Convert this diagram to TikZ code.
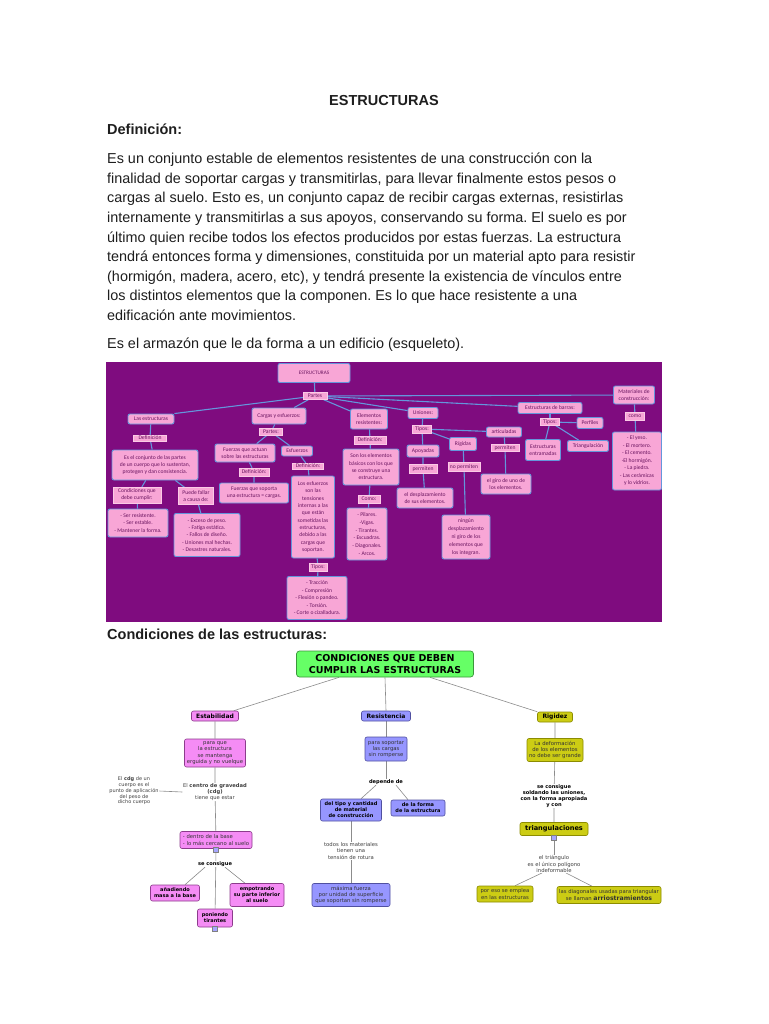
\documentclass[tikz,border=0pt]{standalone}
\usepackage{fontspec}
\setmainfont{Liberation Sans}
\newfontfamily\calib{Carlito}
\newfontfamily\dvs{DejaVu Sans}
\usetikzlibrary{backgrounds}
\definecolor{pbg}{RGB}{127,12,127}
\definecolor{ppink}{RGB}{248,166,214}
\definecolor{pblue}{RGB}{100,150,220}
\definecolor{ptext}{RGB}{105,20,95}
\definecolor{gfill}{RGB}{102,255,102}
\definecolor{gbord}{RGB}{60,150,60}
\definecolor{vfill}{RGB}{245,140,245}
\definecolor{vbord}{RGB}{140,60,140}
\definecolor{bfill}{RGB}{150,150,255}
\definecolor{bbord}{RGB}{80,80,160}
\definecolor{ofill}{RGB}{204,204,20}
\definecolor{obord}{RGB}{140,140,0}
\definecolor{bodytext}{RGB}{30,30,30}
\frenchspacing
\begin{document}
\begin{tikzpicture}[x=1pt,y=-1pt,
  body/.style={anchor=base west, inner sep=0pt, text=bodytext, font=\fontsize{14.4}{17}\selectfont},
  bodyb/.style={body, font=\fontsize{14.5}{17}\selectfont\bfseries},
  pbox/.style={draw=pblue, line width=0.9pt, fill=ppink, rounded corners=2pt, text=ptext,
    font=\calib\fontsize{5.6}{7.3}\selectfont, align=center, inner sep=0.5pt},
  plab/.style={fill=ppink, draw=ppink!60!white, line width=0.3pt, text=ptext,
    font=\calib\fontsize{5.6}{7}\selectfont, align=center, inner sep=0.5pt},
  pedge/.style={draw=pblue, line width=1.1pt},
  cbox/.style={rounded corners=2pt, line width=0.6pt, align=center, inner sep=0.5pt,
    font=\dvs\fontsize{5.3}{6.3}\selectfont, text=black!80},
  cboxb/.style={cbox, font=\dvs\bfseries\fontsize{5}{6}\selectfont, text=black},
  vbox/.style={fill=vfill, draw=vbord},
  bbox/.style={fill=bfill, draw=bbord},
  obox/.style={fill=ofill, draw=obord},
  ctxt/.style={fill=white, inner sep=0.5pt, align=center, font=\dvs\fontsize{5.3}{6.1}\selectfont, text=black!75},
  ctxtb/.style={ctxt, font=\dvs\bfseries\fontsize{5.1}{6}\selectfont, text=black},
  cedge/.style={draw=black!45, line width=0.6pt},
  icon/.style={draw=black!50, fill=blue!35!white, line width=0.3pt, minimum width=5pt, minimum height=5pt, inner sep=0pt}
]
\useasboundingbox (0,0) rectangle (768,1024);

% ---------- text ----------
\node[bodyb, anchor=base] (title) at (384,106) {ESTRUCTURAS};
\node[bodyb] (defh) at (107,135) {Definición:};
\node[body] (l1) at (107,164) {Es un conjunto estable de elementos resistentes de una construcción con la};
\node[body] (l2) at (107,183.5) {finalidad de soportar cargas y transmitirlas, para llevar finalmente estos pesos o};
\node[body] (l3) at (107,203) {cargas al suelo. Esto es, un conjunto capaz de recibir cargas externas, resistirlas};
\node[body] (l4) at (107,222.5) {internamente y transmitirlas a sus apoyos, conservando su forma. El suelo es por};
\node[body] (l5) at (107,242) {último quien recibe todos los efectos producidos por estas fuerzas. La estructura};
\node[body] (l6) at (107,261.5) {tendrá entonces forma y dimensiones, constituida por un material apto para resistir};
\node[body] (l7) at (107,281) {(hormigón, madera, acero, etc), y tendrá presente la existencia de vínculos entre};
\node[body] (l8) at (107,300.5) {los distintos elementos que la componen. Es lo que hace resistente a una};
\node[body] (l9) at (107,320) {edificación ante movimientos.};
\node[body] (l10) at (107,348.5) {Es el armazón que le da forma a un edificio (esqueleto).};
\node[bodyb] (condh) at (107,639) {Condiciones de las estructuras:};

% ---------- purple map nodes ----------
\node[pbox, minimum width=72pt, minimum height=19pt, font=\calib\fontsize{5.2}{6}\selectfont] (est) at (314,373) {ESTRUCTURAS};
\node[plab, minimum width=24pt, minimum height=7pt] (partes1) at (315,396) {Partes};
\node[pbox, minimum width=46pt, minimum height=10pt] (lasest) at (151,419) {Las estructuras};
\node[pbox, minimum width=54pt, minimum height=16pt] (cargas) at (279,416) {Cargas y esfuerzos:};
\node[pbox, minimum width=37pt, minimum height=20pt] (elem) at (369,419) {Elementos\\resistentes:};
\node[pbox, minimum width=30pt, minimum height=11pt] (uniones) at (423,413) {Uniones:};
\node[pbox, minimum width=64pt, minimum height=11pt] (barras) at (550,408) {Estructuras de barras:};
\node[pbox, minimum width=41pt, minimum height=18pt] (mat) at (634,395) {Materiales de\\construcción:};

\node[plab, minimum width=33pt, minimum height=6pt] (def1) at (150,438) {Definición};
\node[pbox, minimum width=86pt, minimum height=30pt] (esconj) at (155,465) {Es el conjunto de las partes\\de un cuerpo que lo sustentan,\\protegen y dan consistencia.};
\node[plab, minimum width=48pt, minimum height=16pt] (cond) at (137,495) {Condiciones que\\debe cumplir:};
\node[plab, minimum width=35pt, minimum height=17pt] (puede) at (196,496) {Puede fallar\\a causa de:};
\node[pbox, minimum width=60pt, minimum height=28pt] (serres) at (138,523) {- Ser resistente.\\- Ser estable.\\- Mantener la forma.};
\node[pbox, minimum width=66pt, minimum height=43pt] (exceso) at (207,535) {- Exceso de peso.\\- Fatiga estática.\\- Fallos de diseño.\\- Uniones mal hechas.\\- Desastres naturales.};

\node[plab, minimum width=23pt, minimum height=7pt] (partes2) at (271,432) {Partes:};
\node[pbox, minimum width=60pt, minimum height=18pt] (fuerzas) at (245,453) {Fuerzas que actuan\\sobre las estructuras};
\node[pbox, minimum width=31pt, minimum height=10pt] (esfuerzos) at (297,451) {Esfuerzos};
\node[plab, minimum width=30pt, minimum height=8pt] (def2) at (254,472) {Definición:};
\node[pbox, minimum width=69pt, minimum height=20pt] (fsoporta) at (254,493) {Fuerzas que soporta\\una estructura = cargas.};
\node[plab, minimum width=31pt, minimum height=6pt] (def3) at (308,466) {Definición:};
\node[pbox, minimum width=43pt, minimum height=82pt] (losesf) at (313,517) {Los esfuerzos\\son las\\tensiones\\internas a las\\que están\\sometidas las\\estructuras,\\debido a las\\cargas que\\soportan.};
\node[plab, minimum width=18pt, minimum height=8pt] (tipos1) at (318,567) {Tipos:};
\node[pbox, minimum width=60pt, minimum height=43pt, font=\calib\fontsize{5.6}{7.5}\selectfont] (tiplist) at (317,598) {- Tracción\\- Compresión\\- Flexión o pandeo.\\- Torsión.\\- Corte o cizalladura.};

\node[plab, minimum width=32pt, minimum height=8pt] (def4) at (370,440) {Definición:};
\node[pbox, minimum width=56pt, minimum height=36pt] (sonlos) at (371,467) {Son los elementos\\básicos con los que\\se construye una\\estructura.};
\node[plab, minimum width=22pt, minimum height=8pt] (como1) at (369,499) {Como:};
\node[pbox, minimum width=40pt, minimum height=52pt, font=\calib\fontsize{5.6}{7.8}\selectfont] (pilares) at (367,534) {- Pilares.\\-Vigas.\\- Tirantes.\\- Escuadras.\\- Diagonales.\\- Arcos.};

\node[plab, minimum width=19pt, minimum height=8pt] (tipos2) at (422,429) {Tipos:};
\node[pbox, minimum width=32pt, minimum height=12pt] (apoyadas) at (423,451) {Apoyadas};
\node[pbox, minimum width=27pt, minimum height=13pt] (rigidas) at (463,444) {Rígidas};
\node[pbox, minimum width=35pt, minimum height=10pt] (articuladas) at (504,432) {articuladas};
\node[plab, minimum width=28pt, minimum height=9pt] (perm1) at (423,469) {permiten};
\node[plab, minimum width=32pt, minimum height=9pt] (noperm) at (464,467) {no permiten};
\node[plab, minimum width=28pt, minimum height=7pt] (perm2) at (505,448) {permiten};
\node[pbox, minimum width=56pt, minimum height=20pt] (desplaz) at (425,498) {el desplazamiento\\de sus elementos.};
\node[pbox, minimum width=48pt, minimum height=44pt, font=\calib\fontsize{5.6}{7.8}\selectfont] (ningun) at (466,537) {ningún\\desplazamiento\\ni giro de los\\elementos que\\los integran.};
\node[pbox, minimum width=50pt, minimum height=20pt] (giro) at (506,484) {el giro de uno de\\los elementos.};

\node[plab, minimum width=19pt, minimum height=7pt] (tipos3) at (550,422) {Tipos:};
\node[pbox, minimum width=26pt, minimum height=11pt] (perfiles) at (590,423) {Perfiles};
\node[pbox, minimum width=35pt, minimum height=21pt] (entram) at (543,450) {Estructuras\\entramadas};
\node[pbox, minimum width=41pt, minimum height=11pt] (triangp) at (588,446) {Triangulación};
\node[plab, minimum width=19pt, minimum height=8pt] (como2) at (635,416) {como};
\node[pbox, minimum width=49pt, minimum height=58pt, font=\calib\fontsize{5.6}{7.5}\selectfont] (matlist) at (637,461) {- El yeso.\\- El mortero.\\- El cemento.\\-El hormigón.\\- La piedra.\\- Las cerámicas\\y lo vidrios.};

% ---------- second map nodes ----------
\node[rounded corners=3pt, fill=gfill, draw=gbord, line width=0.7pt, minimum width=177pt, minimum height=26pt,
  align=center, inner sep=0pt, font=\dvs\bfseries\fontsize{9.5}{12.5}\selectfont] (cmain) at (385,664) {CONDICIONES QUE DEBEN\\CUMPLIR LAS ESTRUCTURAS};
\node[cboxb, vbox, minimum width=47pt, minimum height=10pt, font=\dvs\bfseries\fontsize{6}{7}\selectfont] (estab) at (215,716) {Estabilidad};
\node[cboxb, bbox, minimum width=49pt, minimum height=10pt, font=\dvs\bfseries\fontsize{6}{7}\selectfont] (resist) at (386,716) {Resistencia};
\node[cboxb, obox, minimum width=35pt, minimum height=10pt, font=\dvs\bfseries\fontsize{6}{7}\selectfont] (rigidez) at (555,717) {Rigidez};

\node[cbox, vbox, minimum width=61pt, minimum height=28pt] (paraque) at (215,753) {para que\\la estructura\\se mantenga\\erguida y no vuelque};
\node[ctxt, font=\dvs\fontsize{5.2}{5.9}\selectfont] (cdgtxt) at (215,792) {El \textbf{centro de gravedad}\\\textbf{(cdg)}\\tiene que estar};
\node[ctxt, font=\dvs\fontsize{5}{5.8}\selectfont] (cdgdef) at (134,791) {El \textbf{cdg} de un\\cuerpo es el\\punto de aplicación\\del peso de\\dicho cuerpo};
\node[cbox, vbox, minimum width=72pt, minimum height=17pt, align=left] (dentro) at (216,840) {- dentro de la base\\- lo más cercano al suelo};
\node[icon] (ic1) at (216,849.5) {};
\node[ctxtb] (secons1) at (215,864) {se consigue};
\node[cboxb, vbox, minimum width=49pt, minimum height=16pt] (anadiendo) at (175,893) {añadiendo\\masa a la base};
\node[cboxb, vbox, minimum width=54pt, minimum height=23pt] (empotrando) at (257,895) {empotrando\\su parte inferior\\al suelo};
\node[cboxb, vbox, minimum width=35pt, minimum height=18pt] (poniendo) at (215,918) {poniendo\\tirantes};
\node[icon] (ic2) at (215,928.5) {};

\node[cbox, bbox, minimum width=42pt, minimum height=24pt] (parasop) at (386,749) {para soportar\\las cargas\\sin romperse};
\node[ctxtb] (depende) at (386,782) {depende de};
\node[cboxb, bbox, minimum width=61pt, minimum height=22pt] (deltipo) at (351,810) {del tipo y cantidad\\de material\\de construcción};
\node[cboxb, bbox, minimum width=54pt, minimum height=16pt] (forma) at (418,808) {de la forma\\de la estructura};
\node[ctxt] (todos) at (351,851) {todos los materiales\\tienen una\\tensión de rotura};
\node[cbox, bbox, minimum width=78pt, minimum height=23pt] (maxima) at (351,895) {máxima fuerza\\por unidad de superficie\\que soportan sin romperse};

\node[cbox, obox, minimum width=56pt, minimum height=23pt] (deform) at (555,750) {La deformación\\de los elementos\\no debe ser grande};
\node[ctxtb] (secons2) at (554,796) {se consigue\\soldando las uniones,\\con la forma apropiada\\y con};
\node[cboxb, obox, minimum width=68pt, minimum height=13pt, font=\dvs\bfseries\fontsize{6.6}{8}\selectfont] (triang) at (554,829) {triangulaciones};
\node[icon] (ic3) at (554,838) {};
\node[ctxt] (eltri) at (554,864) {el triángulo\\es el único polígono\\indeformable};
\node[cbox, obox, minimum width=56pt, minimum height=16pt] (poreso) at (505,894) {por eso se emplea\\en las estructuras};
\node[cbox, obox, minimum width=104pt, minimum height=17pt] (diag) at (609,895) {las diagonales usadas para triangular\\se llaman {\bfseries\fontsize{6.2}{6.2}\selectfont arriostramientos}};

% ---------- background + connectors ----------
\begin{scope}[on background layer]
  \fill[white] (0,0) rectangle (768,1024);
  \fill[pbg] (106,362) rectangle (662,622);
  % purple map edges
  \draw[pedge] (est) -- (partes1);
  \draw[pedge] (partes1) -- (lasest.north east);
  \draw[pedge] (partes1) -- (cargas);
  \draw[pedge] (partes1) -- (elem);
  \draw[pedge] (partes1) -- (uniones);
  \draw[pedge] (partes1) -- (barras);
  \draw[pedge] (partes1) -- (mat);
  \draw[pedge] (lasest) -- (def1) -- (esconj);
  \draw[pedge] (esconj) -- (cond) -- (serres);
  \draw[pedge] (esconj) -- (puede) -- (exceso);
  \draw[pedge] (cargas) -- (partes2);
  \draw[pedge] (partes2) -- (fuerzas);
  \draw[pedge] (partes2) -- (esfuerzos);
  \draw[pedge] (fuerzas) -- (def2) -- (fsoporta);
  \draw[pedge] (esfuerzos) -- (def3) -- (losesf) -- (tipos1) -- (tiplist);
  \draw[pedge] (elem) -- (def4) -- (sonlos) -- (como1) -- (pilares);
  \draw[pedge] (uniones) -- (tipos2);
  \draw[pedge] (tipos2) -- (apoyadas);
  \draw[pedge] (tipos2) -- (rigidas);
  \draw[pedge] (tipos2) -- (articuladas);
  \draw[pedge] (apoyadas) -- (perm1) -- (desplaz);
  \draw[pedge] (rigidas) -- (noperm) -- (ningun);
  \draw[pedge] (articuladas) -- (perm2) -- (giro);
  \draw[pedge] (barras) -- (tipos3);
  \draw[pedge] (tipos3) -- (perfiles);
  \draw[pedge] (tipos3) -- (entram);
  \draw[pedge] (tipos3) -- (triangp);
  \draw[pedge] (mat) -- (como2) -- (matlist);
  % second map edges
  \draw[cedge] ([xshift=-46pt]cmain.south) -- ([xshift=-5pt]estab.north east);
  \draw[cedge] (cmain.south) -- (resist.north);
  \draw[cedge] ([xshift=45pt]cmain.south) -- (rigidez.north west);
  \draw[cedge] (estab) -- (paraque) -- (cdgtxt) -- (dentro);
  \draw[cedge] (cdgdef.east) -- (cdgtxt.west);
  \draw[cedge] (ic1) -- (poniendo);
  \draw[cedge] ([xshift=-10pt]secons1.south) -- ([xshift=10pt]anadiendo.north);
  \draw[cedge] ([xshift=10pt]secons1.south) -- ([xshift=-12pt]empotrando.north);
  \draw[cedge] (resist) -- (parasop) -- (depende);
  \draw[cedge] ([xshift=-10pt]depende.south) -- ([xshift=10pt]deltipo.north);
  \draw[cedge] ([xshift=10pt]depende.south) -- ([xshift=-10pt]forma.north);
  \draw[cedge] (deltipo) -- (todos) -- (maxima);
  \draw[cedge] (rigidez) -- (deform) -- (secons2) -- (triang);
  \draw[cedge] (ic3) -- (eltri);
  \draw[cedge] ([xshift=-12pt]eltri.south) -- ([xshift=10pt]poreso.north);
  \draw[cedge] ([xshift=12pt]eltri.south) -- ([xshift=-17pt]diag.north);
\end{scope}
\end{tikzpicture}
\end{document}
